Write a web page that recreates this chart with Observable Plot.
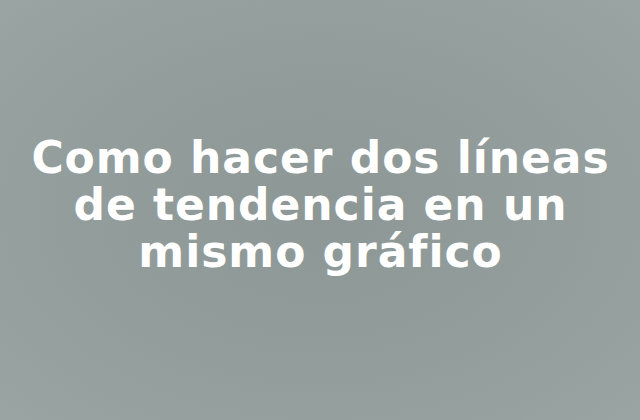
<!DOCTYPE html>
<html>
<head>
<meta charset="utf-8">
<script src="https://cdn.jsdelivr.net/npm/d3@7"></script>
<script src="https://cdn.jsdelivr.net/npm/@observablehq/plot@0.6"></script>
<style>
  html, body { margin: 0; padding: 0; background: #929c9b; }
  #chart { width: 640px; height: 420px; overflow: hidden; }
  svg { display: block; }
</style>
</head>
<body>
<div id="chart"></div>
<script>
// Title lines shown on the image (no numeric series in this picture)
const titleLines = ["Como hacer dos líneas", "de tendencia en un", "mismo gráfico"];
const lineIndex = [0, 1, 2];

const rows = lineIndex.map(i => ({ i, text: titleLines[i] }));

const plot = Plot.plot({
  width: 640,
  height: 420,
  margin: 0,
  x: { domain: [0, 1], axis: null },
  y: { domain: [-3.68, 5.255], range: [0, 420], axis: null },
  style: {
    background: "radial-gradient(ellipse at 50% 50%, #8c9796 0%, #939d9c 55%, #9aa4a3 100%)",
    fontFamily: "'DejaVu Sans', sans-serif",
    letterSpacing: "0.95px"
  },
  marks: [
    Plot.text(rows, {
      x: () => 0.5,
      y: "i",
      text: "text",
      fill: "#ffffff",
      fontSize: 44,
      fontWeight: "bold",
      lineAnchor: "bottom",
      textAnchor: "middle"
    })
  ]
});
document.getElementById("chart").appendChild(plot);
</script>
</body>
</html>
